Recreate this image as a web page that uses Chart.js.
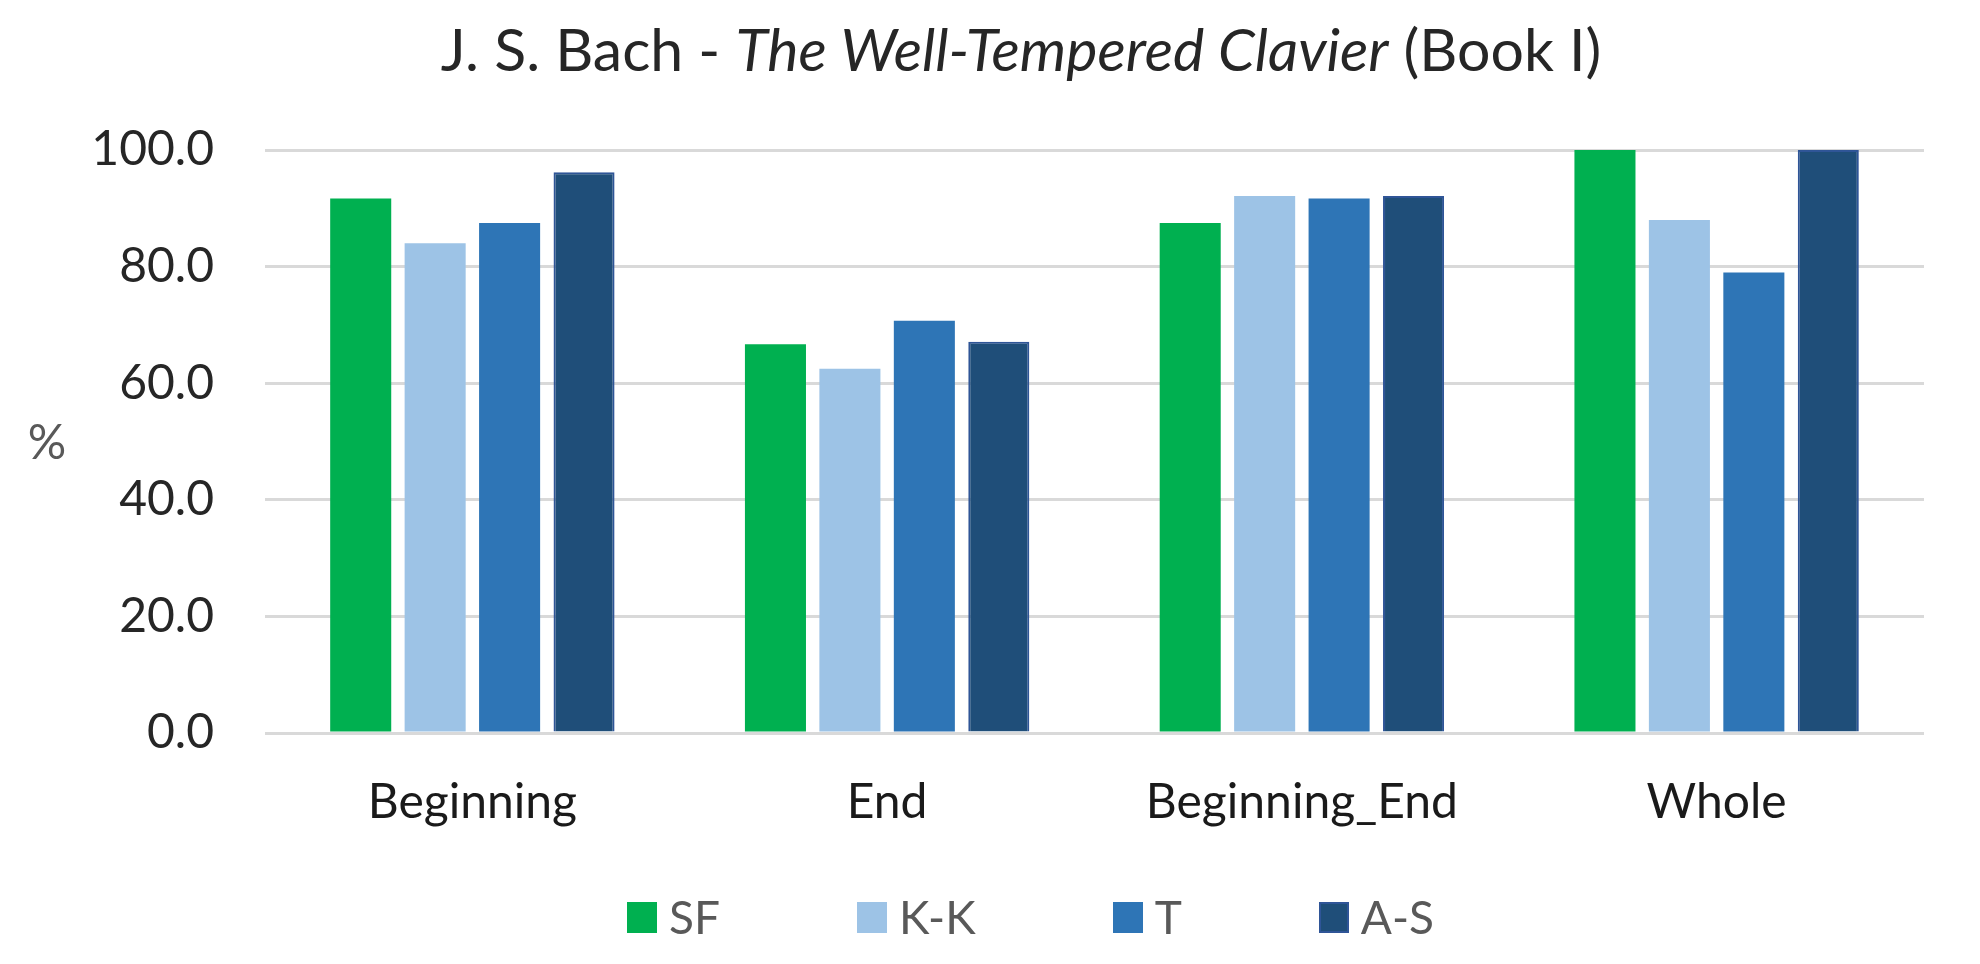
<!DOCTYPE html>
<html>
<head>
<meta charset="utf-8">
<script src="https://cdn.jsdelivr.net/npm/chart.js@4.4.1/dist/chart.umd.min.js"></script>
<style>
  html, body { margin: 0; padding: 0; background: #ffffff; }
  #wrap { position: relative; width: 1980px; height: 964px; overflow: hidden; }
  #c { position: absolute; left: 0; top: 0; }
  #legend { position: absolute; left: 627px; top: 894px; display: flex; align-items: center; gap: 137px;
            font-family: Lato, "Liberation Sans", sans-serif; font-size: 46px; color: #595959; line-height: 1; }
  .item { display: flex; align-items: center; }
  .box { width: 30px; height: 31px; box-sizing: border-box; margin-right: 12px; }
</style>
</head>
<body>
<div id="wrap">
  <canvas id="c" width="1980" height="964"></canvas>
  <div id="legend"></div>
</div>
<script>
// ---- data ----
const categories = ["Beginning", "End", "Beginning_End", "Whole"];
const seriesNames = ["SF", "K-K", "T", "A-S"];
const sfValues = [91.7, 66.7, 87.5, 100.0];
const kkValues = [84.0, 62.5, 92.1, 88.0];
const tValues  = [87.5, 70.7, 91.7, 79.0];
const asValues = [96.2, 67.1, 92.1, 100.0];
const yTicks = [0, 20, 40, 60, 80, 100];
const titleParts = ["J. S. Bach - ", "The Well-Tempered Clavier", " (Book I)"];
const yAxisLabel = "%";

// ---- styles ----
const fillColors = ["#00B050", "#9DC3E6", "#2E75B6", "#1F4E79"];
const edgeColors = ["#00B050", "#9DC3E6", "#2E75B6", "#2F5597"];
const edgeWidths = [0, 0, 0, 2];
const FONT = "Lato, 'Liberation Sans', sans-serif";

const seriesValues = [sfValues, kkValues, tValues, asValues];

const titlePlugin = {
  id: 'mixedTitle',
  afterDraw(chart) {
    const ctx = chart.ctx;
    ctx.save();
    const fonts = ["normal 400 59px " + FONT, "italic 400 59px " + FONT, "normal 400 59px " + FONT];
    let widths = titleParts.map((t, i) => { ctx.font = fonts[i]; return ctx.measureText(t).width; });
    const total = widths.reduce((a, b) => a + b, 0);
    let x = 1021 - total / 2;
    ctx.fillStyle = "#262626";
    ctx.textBaseline = "alphabetic";
    ctx.textAlign = "left";
    titleParts.forEach((t, i) => { ctx.font = fonts[i]; ctx.fillText(t, x, 71); x += widths[i]; });
    // y-axis label (upright)
    ctx.font = "normal 400 48px " + FONT;
    ctx.fillStyle = "#595959";
    ctx.textAlign = "center";
    const yMid = (chart.chartArea.top + chart.chartArea.bottom) / 2;
    ctx.textBaseline = "middle";
    ctx.fillText(yAxisLabel, 47, yMid + 2);
    ctx.restore();
  }
};

new Chart(document.getElementById('c'), {
  type: 'bar',
  data: {
    labels: categories,
    datasets: seriesNames.map((name, i) => ({
      label: name,
      data: seriesValues[i],
      backgroundColor: fillColors[i],
      borderColor: edgeColors[i],
      borderWidth: edgeWidths[i],
      categoryPercentage: 0.718,
      barPercentage: 0.82
    }))
  },
  options: {
    responsive: false,
    devicePixelRatio: 1,
    animation: false,
    layout: { padding: { top: 150, right: 56, bottom: 131, left: 0 } },
    plugins: {
      legend: { display: false },
      title: { display: false },
      tooltip: { enabled: false }
    },
    scales: {
      x: {
        grid: { display: false, drawTicks: false },
        border: { display: false },
        ticks: { color: "#1a1a1a", font: { family: FONT, size: 48, lineHeight: 1 }, padding: 46 },
        afterFit: s => { s.height = 100; }
      },
      y: {
        min: 0, max: 100,
        afterBuildTicks: s => { s.ticks = yTicks.map(v => ({ value: v })); },
        grid: { color: "#D9D9D9", lineWidth: 3, drawTicks: false },
        border: { display: false },
        ticks: { color: "#262626", font: { family: FONT, size: 48 }, padding: 51,
                 callback: v => Number(v).toFixed(1) },
        afterFit: s => { s.width = 265; }
      }
    }
  },
  plugins: [titlePlugin]
});

// legend (HTML) built from series names and colors
const lg = document.getElementById('legend');
seriesNames.forEach((name, i) => {
  const it = document.createElement('div'); it.className = 'item';
  const b = document.createElement('div'); b.className = 'box';
  b.style.background = fillColors[i];
  if (edgeWidths[i]) b.style.border = edgeWidths[i] + "px solid " + edgeColors[i];
  const t = document.createElement('span'); t.textContent = name;
  it.appendChild(b); it.appendChild(t); lg.appendChild(it);
});
</script>
</body>
</html>
